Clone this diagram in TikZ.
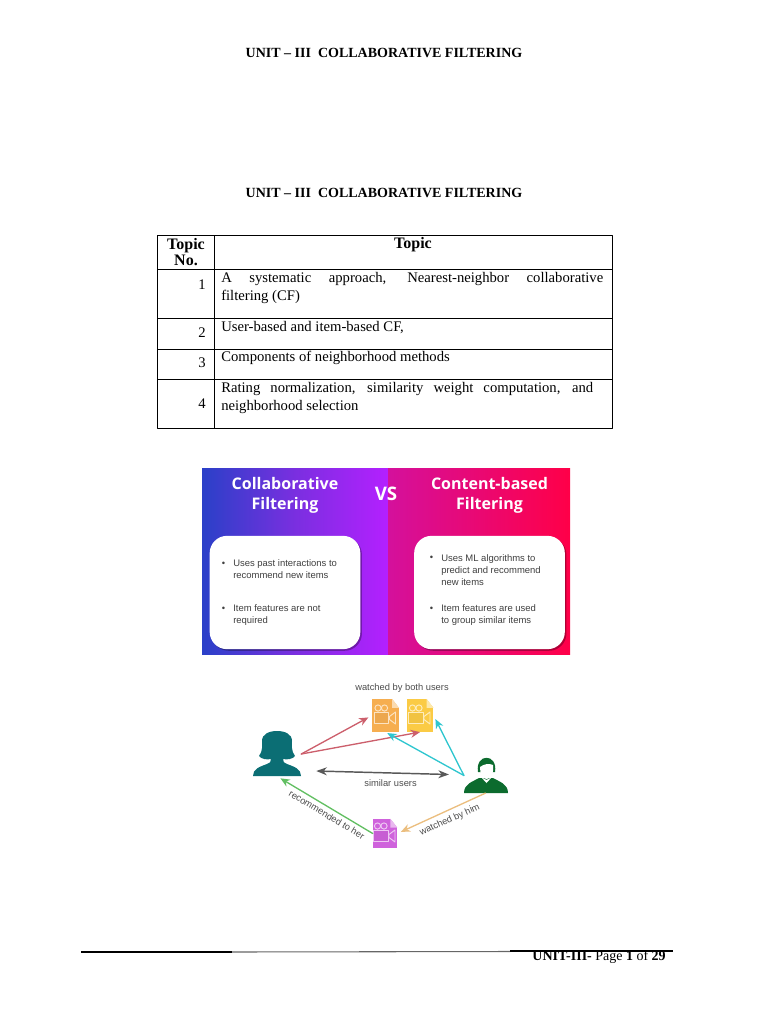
\documentclass[tikz,border=0pt]{standalone}
\usepackage{fontspec}
\setmainfont{Liberation Serif}
\newfontfamily\bannerfont{Open Sans}
\newfontfamily\labelfont{Liberation Sans}
\usetikzlibrary{arrows.meta,shadows}
\definecolor{tealuser}{HTML}{0B6E74}
\definecolor{greenuser}{HTML}{0C6B2E}
\definecolor{docorange}{HTML}{F6AE50}
\definecolor{docyellow}{HTML}{FBCB45}
\definecolor{docpurple}{HTML}{CF62DC}
\definecolor{arrowred}{HTML}{CC5F6C}
\definecolor{arrowcyan}{HTML}{2FC6CF}
\definecolor{arrowgreen}{HTML}{62BF62}
\definecolor{arrowtan}{HTML}{EBBE7F}
\definecolor{panelblue}{HTML}{2A40C8}
\definecolor{panelmid}{HTML}{7A2FE0}
\definecolor{panelviolet}{HTML}{B420FF}
\definecolor{panelpink}{HTML}{D4109C}
\definecolor{panelred}{HTML}{FF0048}
\tikzset{
	heading/.style={font=\fontsize{10.5pt}{12pt}\selectfont\bfseries,inner sep=0pt},
	headcell/.style={font=\fontsize{12pt}{12pt}\selectfont\bfseries,inner sep=0pt,align=center},
	numcell/.style={font=\fontsize{11pt}{12pt}\selectfont,inner sep=0pt,anchor=east},
	textcell/.style={font=\fontsize{11pt}{13.5pt}\selectfont,inner sep=0pt,anchor=north west,align=justify},
	title/.style={font=\bannerfont\bfseries\fontsize{12pt}{15pt}\selectfont,text=white,inner sep=0pt,align=center},
	card/.style={fill=white,rounded corners=13pt,inner sep=0pt,minimum width=113pt,minimum height=85pt,
		drop shadow={shadow xshift=1.2pt,shadow yshift=-1.2pt,opacity=.3,fill=black}},
	cardtext/.style={font=\labelfont\fontsize{7.1pt}{8.8pt}\selectfont,text=black!75,inner sep=0pt,anchor=west,align=left},
	docbox/.style={fill=#1,inner sep=0pt,minimum width=20pt,minimum height=24.5pt},
	link/.style={-{Stealth[length=7pt,width=6pt]},line width=1pt,shorten >=3pt},
	caption/.style={font=\labelfont\fontsize{7pt}{8pt}\selectfont,text=black!70,inner sep=1.5pt}
}
\newcommand{\videoicon}[2]{
	\fill[white] (#1.north east) ++(-7,0) -- ++(7,0) -- ++(0,9) -- cycle;
	\fill[#2!45!white] (#1.north east) ++(-7,0) -- ++(0,9) -- ++(7,0) -- cycle;
	\draw[white!65!#2,line width=.7pt] (#1.center) ++(-7.5,-7.5) circle (3.1) ++(6.5,0) circle (3.1);
	\fill[#2!96!black,draw=white!65!#2,line width=.7pt] (#1.center) ++(-11.5,-3.5) rectangle ++(14.5,11);
	\draw[white!65!#2,line width=.7pt,line join=round] (#1.center) ++(4,1) -- ++(6,-4.5) -- ++(0,12) -- ++(-6,-4.5) -- cycle;
}
\begin{document}
\begin{tikzpicture}[x=0.75pt,y=-0.75pt,>=Stealth,line cap=round,line join=round]
	\useasboundingbox (0,0) rectangle (768,1024);

	\node[heading] (pagehead) at (384,52.5) {UNIT -- III\ \ COLLABORATIVE FILTERING};
	\node[heading] (unithead) at (384,192.5) {UNIT -- III\ \ COLLABORATIVE FILTERING};

	\draw[line width=.75pt,line cap=butt] (157,235) rectangle (612,428.5);
	\draw[line width=.75pt,line cap=butt] (214.5,235) -- (214.5,428.5);
	\foreach \rowy in {269.5,318.5,349,379}
		\draw[line width=.75pt,line cap=butt] (157,\rowy) -- (612,\rowy);

	\node[headcell] (headno) at (186,252) {Topic\\No.};
	\node[headcell] (headtopic) at (413,245) {Topic};
	\node[numcell] (numa) at (206,284.5) {1};
	\node[numcell] (numb) at (206,332.5) {2};
	\node[numcell] (numc) at (206,363) {3};
	\node[numcell] (numd) at (206,403.5) {4};
	\node[textcell,text width=286.5pt] (rowa) at (221,272.5) {A systematic approach, Nearest-neighbor collaborative\linebreak filtering (CF)};
	\node[textcell] (rowb) at (221,321.5) {User-based and item-based CF,};
	\node[textcell] (rowc) at (221,350.5) {Components of neighborhood methods};
	\node[textcell,text width=279pt] (rowd) at (221,382.5) {Rating normalization, similarity weight computation, and\linebreak neighborhood selection};

	\shade[left color=panelblue,right color=panelviolet,middle color=panelmid] (202,468) rectangle (388,654);
	\shade[left color=panelpink,right color=panelred] (388,468) rectangle (570,654);
	\node[title] (leftitle) at (285,495.5) {Collaborative\\Filtering};
	\node[title,font=\bannerfont\bfseries\fontsize{14pt}{15pt}\selectfont] (vs) at (386,494) {VS};
	\node[title] (rightitle) at (489.5,495.5) {Content-based\\Filtering};
	\node[card] (leftcard) at (285,592.5) {};
	\node[card] (rightcard) at (489.5,592.5) {};
	\foreach \bully/\bulname in {564/la,609/lb}
		\node[cardtext] (bullet\bulname) at (221.5,\bully) {•};
	\foreach \bully/\bulname in {558/ra,609/rb}
		\node[cardtext] (bullet\bulname) at (429.5,\bully) {•};
	\node[cardtext] (carda) at (233,569) {Uses past interactions to\\recommend new items};
	\node[cardtext] (cardb) at (233,615) {Item features are not\\required};
	\node[cardtext] (cardc) at (441,570) {Uses ML algorithms to\\predict and recommend\\new items};
	\node[cardtext] (cardd) at (441,615) {Item features are used\\to group similar items};

	\node[caption] (both) at (402,688) {watched by both users};
	\node[docbox=docorange] (docorange) at (385.5,715.5) {};
	\node[docbox=docyellow] (docyellow) at (420,715.5) {};
	\node[docbox=docpurple,minimum width=18pt,minimum height=22pt] (docpurple) at (385,833.5) {};
	\videoicon{docorange}{docorange}
	\videoicon{docyellow}{docyellow}
	\videoicon{docpurple}{docpurple}

	\node[inner sep=0pt,minimum width=36pt,minimum height=33pt] (woman) at (277,754) {};
	\fill[tealuser] (253,776) .. controls (253,769) and (259,767) .. (267,764) .. controls (270,763) and (271,762) .. (271,759)
		.. controls (267,760) and (261,759) .. (259,756) .. controls (263,751) and (262,745) .. (262,741)
		.. controls (262,734) and (269,731) .. (277,731) .. controls (285,731) and (292,734) .. (292,741)
		.. controls (292,745) and (291,751) .. (295,756) .. controls (293,759) and (287,760) .. (283,759)
		.. controls (283,762) and (284,763) .. (287,764) .. controls (295,767) and (301,769) .. (301,776) -- cycle;

	\node[inner sep=0pt,minimum width=32pt,minimum height=26pt] (man) at (485.5,775.5) {};
	\fill[greenuser] (464,793) .. controls (464,784) and (472,782) .. (479,778) -- (493,778) .. controls (500,782) and (508,784) .. (508,793) -- cycle;
	\fill[greenuser] (478,772) .. controls (475,753) and (498,753) .. (495,772) -- cycle;
	\fill[white] (480,767) .. controls (484,764) and (489,763) .. (493,765) .. controls (494,772) and (492,779) .. (486.5,779)
		.. controls (482,779) and (480,773) .. (480,767) -- cycle;
	\fill[white] (481,777) -- (486.5,783) -- (492,777) -- (486.5,780) -- cycle;

	\draw[link,arrowred] (woman.east) -- (docorange.west);
	\draw[link,arrowred,shorten >=0pt] (woman.east) -- (docyellow.south);
	\draw[link,arrowcyan,shorten >=1.5pt] (man.west) -- (docorange.south);
	\draw[link,arrowcyan] (man.west) -- (docyellow.east);
	\draw[<->,line width=1.1pt,black!65] ([shift={(15,17)}]woman.east) -- ([shift={(-15,-1)}]man.west)
		node[midway,below,caption,xshift=6pt,yshift=-3pt] (similar) {similar users};
	\draw[link,arrowgreen] (docpurple.west) -- (woman.south)
		node[pos=.44,sloped,below,caption,yshift=-1pt] (recommended) {recommended to her};
	\draw[link,arrowtan] (man.south) -- (docpurple.east)
		node[pos=.45,sloped,below,caption,yshift=-2pt] (watched) {watched by him};

	\node[font=\fontsize{10.5pt}{12pt}\selectfont,inner sep=0pt,anchor=east] (pagefoot) at (666,957)
		{\textbf{UNIT-III-} Page \textbf{1} of \textbf{29}};
	\draw[line width=.8pt,line cap=butt] (81,952) -- (232,952);
	\draw[line width=.8pt,line cap=butt,black!60] (232,952) -- (510,951.5);
	\draw[line width=.9pt,line cap=butt] (510,951) -- (673,951);
\end{tikzpicture}
\end{document}
